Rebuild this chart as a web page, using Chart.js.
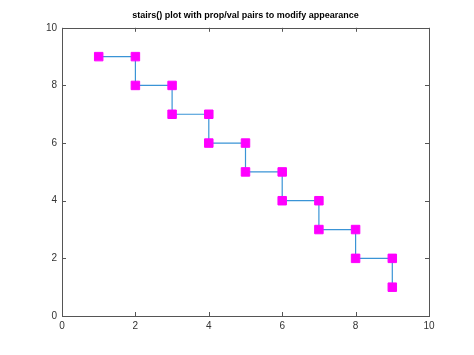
<!DOCTYPE html>
<html>
<head>
<meta charset="utf-8">
<script src="https://cdn.jsdelivr.net/npm/chart.js@4/dist/chart.umd.min.js"></script>
<style>
  html, body { margin: 0; padding: 0; background: #fff; }
  #c { display: block; }
</style>
</head>
<body>
<canvas id="c" width="474" height="355"></canvas>
<script>
// data: stairs(x, y)
const xValues = [1, 2, 3, 4, 5, 6, 7, 8, 9];
const yValues = [9, 8, 7, 6, 5, 4, 3, 2, 1];
const xTicks = [0, 2, 4, 6, 8, 10];
const yTicks = [0, 2, 4, 6, 8, 10];
const titleText = 'stairs() plot with prop/val pairs to modify appearance';

// stair vertices, same as stairs() builds them
let stairPts = [];
xValues.forEach((x, i) => {
    if (i > 0) stairPts.push({ x: x, y: yValues[i - 1] });
    stairPts.push({ x: x, y: yValues[i] });
});

const axisColor = '#555';
const fontFam = '"Liberation Sans", Arial, Helvetica, sans-serif';

// ticks pointing inward on all four sides + box
const boxPlugin = {
    id: 'box',
    afterDraw(chart) {
        const ctx = chart.ctx;
        const a = chart.chartArea;
        const sx = chart.scales.x, sy = chart.scales.y;
        const len = 4;
        ctx.save();
        ctx.strokeStyle = axisColor;
        ctx.lineWidth = 1;
        ctx.beginPath();
        xTicks.forEach(v => {
            let px = Math.round(sx.getPixelForValue(v)) + 0.5;
            ctx.moveTo(px, a.bottom); ctx.lineTo(px, a.bottom - len);
            ctx.moveTo(px, a.top); ctx.lineTo(px, a.top + len);
        });
        yTicks.forEach(v => {
            let py = Math.round(sy.getPixelForValue(v)) + 0.5;
            ctx.moveTo(a.left, py); ctx.lineTo(a.left + len, py);
            ctx.moveTo(a.right, py); ctx.lineTo(a.right - len, py);
        });
        ctx.stroke();
        ctx.strokeRect(Math.round(a.left) + 0.5, Math.round(a.top) + 0.5,
            Math.round(a.right - a.left), Math.round(a.bottom - a.top));
        ctx.restore();
    }
};

const tickFont = { family: fontFam, size: 10 };

new Chart(document.getElementById('c'), {
    type: 'scatter',
    data: {
        datasets: [{
            data: stairPts,
            showLine: true,
            borderColor: '#3a94d6',
            borderWidth: 1.2,
            pointStyle: 'rect',
            pointRadius: 6,
            pointBorderWidth: 1,
            pointBackgroundColor: '#ff00ff',
            pointBorderColor: '#ff00ff'
        }]
    },
    options: {
        responsive: false,
        animation: false,
        layout: { padding: { left: 17, right: 0, top: 0, bottom: 19 } },
        plugins: {
            legend: { display: false },
            tooltip: { enabled: false },
            title: {
                display: true,
                text: titleText,
                color: '#000',
                font: { family: fontFam, size: 9, weight: 'bold' },
                padding: { top: 10, bottom: 7 }
            }
        },
        scales: {
            x: {
                type: 'linear', min: 0, max: 10,
                afterBuildTicks: s => { s.ticks = xTicks.map(v => ({ value: v })); },
                afterFit: s => { s.height = 20; },
                grid: { display: false, drawTicks: false },
                border: { display: false },
                ticks: { color: '#333', padding: 4, font: tickFont }
            },
            y: {
                type: 'linear', min: 0, max: 10,
                afterBuildTicks: s => { s.ticks = yTicks.map(v => ({ value: v })); },
                afterFit: s => { s.width = 45; },
                grid: { display: false, drawTicks: false },
                border: { display: false },
                ticks: { color: '#333', padding: 5, font: tickFont }
            },
            // empty right-hand axis only to keep the right margin
            yr: {
                type: 'linear', position: 'right', min: 0, max: 10,
                afterFit: s => { s.width = 45; },
                grid: { display: false, drawTicks: false },
                border: { display: false },
                ticks: { display: false }
            }
        }
    },
    plugins: [boxPlugin]
});
</script>
</body>
</html>
